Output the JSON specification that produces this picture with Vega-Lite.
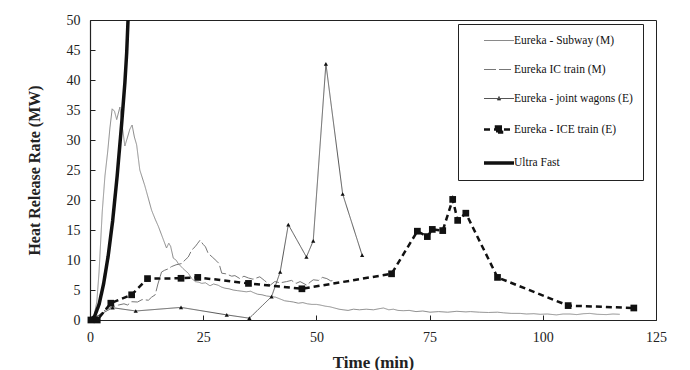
{
  "$schema": "https://vega.github.io/schema/vega-lite/v6.json",
  "width": 566,
  "height": 300,
  "autosize": {"type": "none"},
  "padding": {"left": 90, "top": 20, "right": 34, "bottom": 50},
  "background": "white",
  "config": {
    "view": {"stroke": "#222", "strokeWidth": 1},
    "font": "Liberation Serif",
    "axis": {
      "grid": false,
      "labelFlush": false,
      "domainColor": "#222",
      "domainWidth": 1.2,
      "tickColor": "#222",
      "tickSize": -5,
      "labelFont": "Liberation Serif",
      "labelFontSize": 14,
      "labelColor": "#222",
      "titleFont": "Liberation Serif",
      "titleFontWeight": "bold",
      "titleColor": "#222"
    },
    "legend": {
      "labelFont": "Liberation Serif",
      "labelFontSize": 11.5,
      "labelColor": "#111"
    }
  },
  "data": {
    "values": [
      {"s": "Eureka - Subway (M)", "t": 0.7, "q": 0},
      {"s": "Eureka - Subway (M)", "t": 1.5, "q": 3},
      {"s": "Eureka - Subway (M)", "t": 2.0, "q": 8},
      {"s": "Eureka - Subway (M)", "t": 2.7, "q": 18},
      {"s": "Eureka - Subway (M)", "t": 3.3, "q": 24},
      {"s": "Eureka - Subway (M)", "t": 3.9, "q": 28},
      {"s": "Eureka - Subway (M)", "t": 4.4, "q": 32},
      {"s": "Eureka - Subway (M)", "t": 4.9, "q": 35.2},
      {"s": "Eureka - Subway (M)", "t": 5.4, "q": 34.8},
      {"s": "Eureka - Subway (M)", "t": 5.9, "q": 33.4},
      {"s": "Eureka - Subway (M)", "t": 6.6, "q": 35.5},
      {"s": "Eureka - Subway (M)", "t": 7.0, "q": 33},
      {"s": "Eureka - Subway (M)", "t": 7.7, "q": 29},
      {"s": "Eureka - Subway (M)", "t": 8.3, "q": 30.5},
      {"s": "Eureka - Subway (M)", "t": 8.8, "q": 31.8},
      {"s": "Eureka - Subway (M)", "t": 9.3, "q": 32.5},
      {"s": "Eureka - Subway (M)", "t": 9.8, "q": 30.5},
      {"s": "Eureka - Subway (M)", "t": 10.3, "q": 29.2},
      {"s": "Eureka - Subway (M)", "t": 11.0, "q": 25},
      {"s": "Eureka - Subway (M)", "t": 12.1, "q": 22.4},
      {"s": "Eureka - Subway (M)", "t": 12.8, "q": 20.5},
      {"s": "Eureka - Subway (M)", "t": 13.6, "q": 18.3},
      {"s": "Eureka - Subway (M)", "t": 14.4, "q": 16.8},
      {"s": "Eureka - Subway (M)", "t": 15.1, "q": 15.6},
      {"s": "Eureka - Subway (M)", "t": 15.9, "q": 14},
      {"s": "Eureka - Subway (M)", "t": 16.9, "q": 12},
      {"s": "Eureka - Subway (M)", "t": 17.4, "q": 12.8},
      {"s": "Eureka - Subway (M)", "t": 17.8, "q": 12.3},
      {"s": "Eureka - Subway (M)", "t": 18.4, "q": 10.3},
      {"s": "Eureka - Subway (M)", "t": 19.0, "q": 10},
      {"s": "Eureka - Subway (M)", "t": 19.5, "q": 9.4},
      {"s": "Eureka - Subway (M)", "t": 20.5, "q": 8.6},
      {"s": "Eureka - Subway (M)", "t": 21.7, "q": 7.8},
      {"s": "Eureka - Subway (M)", "t": 22.4, "q": 7},
      {"s": "Eureka - Subway (M)", "t": 23.2, "q": 6.4},
      {"s": "Eureka - Subway (M)", "t": 24.0, "q": 6.3},
      {"s": "Eureka - Subway (M)", "t": 24.7, "q": 6.1},
      {"s": "Eureka - Subway (M)", "t": 25.5, "q": 6.2},
      {"s": "Eureka - Subway (M)", "t": 26.5, "q": 5.7},
      {"s": "Eureka - Subway (M)", "t": 27.3, "q": 6},
      {"s": "Eureka - Subway (M)", "t": 28.3, "q": 5.8},
      {"s": "Eureka - Subway (M)", "t": 29.0, "q": 5.5},
      {"s": "Eureka - Subway (M)", "t": 29.8, "q": 5.3},
      {"s": "Eureka - Subway (M)", "t": 30.7, "q": 5.2},
      {"s": "Eureka - Subway (M)", "t": 31.6, "q": 5.0},
      {"s": "Eureka - Subway (M)", "t": 32.5, "q": 4.9},
      {"s": "Eureka - Subway (M)", "t": 33.5, "q": 4.8},
      {"s": "Eureka - Subway (M)", "t": 34.5, "q": 4.7},
      {"s": "Eureka - Subway (M)", "t": 35.5, "q": 4.8},
      {"s": "Eureka - Subway (M)", "t": 36.0, "q": 4.6},
      {"s": "Eureka - Subway (M)", "t": 37.0, "q": 4.3},
      {"s": "Eureka - Subway (M)", "t": 38.0, "q": 4.2},
      {"s": "Eureka - Subway (M)", "t": 39.0, "q": 4.0},
      {"s": "Eureka - Subway (M)", "t": 40.1, "q": 3.9},
      {"s": "Eureka - Subway (M)", "t": 41.0, "q": 3.8},
      {"s": "Eureka - Subway (M)", "t": 42.0, "q": 3.5},
      {"s": "Eureka - Subway (M)", "t": 43.0, "q": 3.2},
      {"s": "Eureka - Subway (M)", "t": 44.0, "q": 3.1},
      {"s": "Eureka - Subway (M)", "t": 44.9, "q": 3.0},
      {"s": "Eureka - Subway (M)", "t": 46.0, "q": 2.8},
      {"s": "Eureka - Subway (M)", "t": 47.0, "q": 2.9},
      {"s": "Eureka - Subway (M)", "t": 48.0, "q": 2.7},
      {"s": "Eureka - Subway (M)", "t": 49.0, "q": 2.6},
      {"s": "Eureka - Subway (M)", "t": 50.0, "q": 2.6},
      {"s": "Eureka - Subway (M)", "t": 50.8, "q": 2.5},
      {"s": "Eureka - Subway (M)", "t": 52.0, "q": 2.3},
      {"s": "Eureka - Subway (M)", "t": 53.0, "q": 2.2},
      {"s": "Eureka - Subway (M)", "t": 54.0, "q": 2.0},
      {"s": "Eureka - Subway (M)", "t": 55.0, "q": 1.8},
      {"s": "Eureka - Subway (M)", "t": 55.9, "q": 1.7},
      {"s": "Eureka - Subway (M)", "t": 57.0, "q": 1.6},
      {"s": "Eureka - Subway (M)", "t": 58.2, "q": 1.8},
      {"s": "Eureka - Subway (M)", "t": 59.5, "q": 1.7},
      {"s": "Eureka - Subway (M)", "t": 61.0, "q": 1.8},
      {"s": "Eureka - Subway (M)", "t": 62.6, "q": 1.7},
      {"s": "Eureka - Subway (M)", "t": 64.0, "q": 1.9},
      {"s": "Eureka - Subway (M)", "t": 64.8, "q": 2.0},
      {"s": "Eureka - Subway (M)", "t": 66.0, "q": 1.7},
      {"s": "Eureka - Subway (M)", "t": 67.0, "q": 1.8},
      {"s": "Eureka - Subway (M)", "t": 68.0, "q": 1.6},
      {"s": "Eureka - Subway (M)", "t": 69.2, "q": 1.55},
      {"s": "Eureka - Subway (M)", "t": 70.5, "q": 1.6},
      {"s": "Eureka - Subway (M)", "t": 72.0, "q": 1.4},
      {"s": "Eureka - Subway (M)", "t": 73.5, "q": 1.5},
      {"s": "Eureka - Subway (M)", "t": 75.1, "q": 1.3},
      {"s": "Eureka - Subway (M)", "t": 77.0, "q": 1.4},
      {"s": "Eureka - Subway (M)", "t": 79.0, "q": 1.3},
      {"s": "Eureka - Subway (M)", "t": 81.0, "q": 1.45},
      {"s": "Eureka - Subway (M)", "t": 83.0, "q": 1.35},
      {"s": "Eureka - Subway (M)", "t": 84.0, "q": 1.4},
      {"s": "Eureka - Subway (M)", "t": 86.0, "q": 1.3},
      {"s": "Eureka - Subway (M)", "t": 88.0, "q": 1.25},
      {"s": "Eureka - Subway (M)", "t": 90.0, "q": 1.3},
      {"s": "Eureka - Subway (M)", "t": 91.3, "q": 1.2},
      {"s": "Eureka - Subway (M)", "t": 93.0, "q": 1.1},
      {"s": "Eureka - Subway (M)", "t": 95.0, "q": 1.1},
      {"s": "Eureka - Subway (M)", "t": 96.4, "q": 1.0},
      {"s": "Eureka - Subway (M)", "t": 98.0, "q": 1.05},
      {"s": "Eureka - Subway (M)", "t": 99.4, "q": 0.95},
      {"s": "Eureka - Subway (M)", "t": 101.0, "q": 1.0},
      {"s": "Eureka - Subway (M)", "t": 103.0, "q": 0.85},
      {"s": "Eureka - Subway (M)", "t": 104.5, "q": 1.0},
      {"s": "Eureka - Subway (M)", "t": 106.0, "q": 1.0},
      {"s": "Eureka - Subway (M)", "t": 107.5, "q": 0.9},
      {"s": "Eureka - Subway (M)", "t": 109.0, "q": 1.05},
      {"s": "Eureka - Subway (M)", "t": 110.4, "q": 1.1},
      {"s": "Eureka - Subway (M)", "t": 112.0, "q": 0.95},
      {"s": "Eureka - Subway (M)", "t": 114.0, "q": 0.9},
      {"s": "Eureka - Subway (M)", "t": 115.5, "q": 1.0},
      {"s": "Eureka - Subway (M)", "t": 117.0, "q": 0.95},

      {"s": "Eureka IC train (M)", "t": 0.5, "q": 0},
      {"s": "Eureka IC train (M)", "t": 2.0, "q": 0.8},
      {"s": "Eureka IC train (M)", "t": 3.0, "q": 1.5},
      {"s": "Eureka IC train (M)", "t": 4.0, "q": 1.9},
      {"s": "Eureka IC train (M)", "t": 5.0, "q": 2.2},
      {"s": "Eureka IC train (M)", "t": 6.3, "q": 2.5},
      {"s": "Eureka IC train (M)", "t": 7.5, "q": 2.7},
      {"s": "Eureka IC train (M)", "t": 8.3, "q": 2.5},
      {"s": "Eureka IC train (M)", "t": 9.2, "q": 3.05},
      {"s": "Eureka IC train (M)", "t": 10.5, "q": 3.0},
      {"s": "Eureka IC train (M)", "t": 11.5, "q": 3.4},
      {"s": "Eureka IC train (M)", "t": 12.9, "q": 3.3},
      {"s": "Eureka IC train (M)", "t": 13.6, "q": 3.8},
      {"s": "Eureka IC train (M)", "t": 14.4, "q": 4.2},
      {"s": "Eureka IC train (M)", "t": 15.0, "q": 6},
      {"s": "Eureka IC train (M)", "t": 15.8, "q": 8},
      {"s": "Eureka IC train (M)", "t": 16.5, "q": 8.3},
      {"s": "Eureka IC train (M)", "t": 17.2, "q": 8.5},
      {"s": "Eureka IC train (M)", "t": 18.0, "q": 8.9},
      {"s": "Eureka IC train (M)", "t": 19.0, "q": 9.2},
      {"s": "Eureka IC train (M)", "t": 20.2, "q": 9.4},
      {"s": "Eureka IC train (M)", "t": 21.0, "q": 10},
      {"s": "Eureka IC train (M)", "t": 21.7, "q": 10.5},
      {"s": "Eureka IC train (M)", "t": 22.5, "q": 11.7},
      {"s": "Eureka IC train (M)", "t": 23.2, "q": 12.2},
      {"s": "Eureka IC train (M)", "t": 23.8, "q": 12.8},
      {"s": "Eureka IC train (M)", "t": 24.3, "q": 13.3},
      {"s": "Eureka IC train (M)", "t": 25.0, "q": 12.6},
      {"s": "Eureka IC train (M)", "t": 25.5, "q": 12.2},
      {"s": "Eureka IC train (M)", "t": 26.1, "q": 11.1},
      {"s": "Eureka IC train (M)", "t": 27.0, "q": 10.5},
      {"s": "Eureka IC train (M)", "t": 28.0, "q": 9.8},
      {"s": "Eureka IC train (M)", "t": 28.5, "q": 9.4},
      {"s": "Eureka IC train (M)", "t": 29.1, "q": 7.8},
      {"s": "Eureka IC train (M)", "t": 30.0, "q": 7.7},
      {"s": "Eureka IC train (M)", "t": 31.3, "q": 7.3},
      {"s": "Eureka IC train (M)", "t": 32.0, "q": 7.4},
      {"s": "Eureka IC train (M)", "t": 33.1, "q": 6.9},
      {"s": "Eureka IC train (M)", "t": 34.0, "q": 7.3},
      {"s": "Eureka IC train (M)", "t": 35.0, "q": 7.0},
      {"s": "Eureka IC train (M)", "t": 36.0, "q": 6.8},
      {"s": "Eureka IC train (M)", "t": 37.5, "q": 7.2},
      {"s": "Eureka IC train (M)", "t": 38.5, "q": 6.6},
      {"s": "Eureka IC train (M)", "t": 39.8, "q": 5.8},
      {"s": "Eureka IC train (M)", "t": 40.8, "q": 6.4},
      {"s": "Eureka IC train (M)", "t": 42.0, "q": 6.2},
      {"s": "Eureka IC train (M)", "t": 43.4, "q": 6.4},
      {"s": "Eureka IC train (M)", "t": 44.5, "q": 6.6},
      {"s": "Eureka IC train (M)", "t": 45.5, "q": 6.1},
      {"s": "Eureka IC train (M)", "t": 46.4, "q": 6.4},
      {"s": "Eureka IC train (M)", "t": 47.9, "q": 5.8},
      {"s": "Eureka IC train (M)", "t": 48.6, "q": 6.3},
      {"s": "Eureka IC train (M)", "t": 49.3, "q": 6.7},
      {"s": "Eureka IC train (M)", "t": 50.5, "q": 6.6},
      {"s": "Eureka IC train (M)", "t": 51.3, "q": 7.1},
      {"s": "Eureka IC train (M)", "t": 52.3, "q": 6.9},
      {"s": "Eureka IC train (M)", "t": 53.2, "q": 6.5},
      {"s": "Eureka IC train (M)", "t": 54.1, "q": 6.7},

      {"s": "Eureka - joint wagons (E)", "t": 0, "q": 0},
      {"s": "Eureka - joint wagons (E)", "t": 5.0, "q": 2.05},
      {"s": "Eureka - joint wagons (E)", "t": 10.1, "q": 1.5},
      {"s": "Eureka - joint wagons (E)", "t": 20.1, "q": 2.1},
      {"s": "Eureka - joint wagons (E)", "t": 30.2, "q": 0.85},
      {"s": "Eureka - joint wagons (E)", "t": 35.2, "q": 0.3},
      {"s": "Eureka - joint wagons (E)", "t": 40.1, "q": 3.9},
      {"s": "Eureka - joint wagons (E)", "t": 42.0, "q": 8},
      {"s": "Eureka - joint wagons (E)", "t": 43.8, "q": 15.9},
      {"s": "Eureka - joint wagons (E)", "t": 47.8, "q": 10.5},
      {"s": "Eureka - joint wagons (E)", "t": 49.3, "q": 13.2},
      {"s": "Eureka - joint wagons (E)", "t": 52.1, "q": 42.7},
      {"s": "Eureka - joint wagons (E)", "t": 55.8, "q": 21},
      {"s": "Eureka - joint wagons (E)", "t": 60.1, "q": 10.8},

      {"s": "Eureka - ICE train (E)", "t": 0.2, "q": 0},
      {"s": "Eureka - ICE train (E)", "t": 1.6, "q": 0},
      {"s": "Eureka - ICE train (E)", "t": 4.6, "q": 2.8},
      {"s": "Eureka - ICE train (E)", "t": 9.2, "q": 4.2},
      {"s": "Eureka - ICE train (E)", "t": 12.7, "q": 6.9},
      {"s": "Eureka - ICE train (E)", "t": 20.1, "q": 6.95},
      {"s": "Eureka - ICE train (E)", "t": 23.8, "q": 7.1},
      {"s": "Eureka - ICE train (E)", "t": 35.0, "q": 6.1},
      {"s": "Eureka - ICE train (E)", "t": 46.8, "q": 5.2},
      {"s": "Eureka - ICE train (E)", "t": 66.6, "q": 7.7},
      {"s": "Eureka - ICE train (E)", "t": 72.3, "q": 14.8},
      {"s": "Eureka - ICE train (E)", "t": 74.5, "q": 13.9},
      {"s": "Eureka - ICE train (E)", "t": 75.6, "q": 15.1},
      {"s": "Eureka - ICE train (E)", "t": 77.9, "q": 14.9},
      {"s": "Eureka - ICE train (E)", "t": 80.1, "q": 20.1},
      {"s": "Eureka - ICE train (E)", "t": 81.2, "q": 16.6},
      {"s": "Eureka - ICE train (E)", "t": 83.0, "q": 17.8},
      {"s": "Eureka - ICE train (E)", "t": 90.0, "q": 7.1},
      {"s": "Eureka - ICE train (E)", "t": 105.6, "q": 2.4},
      {"s": "Eureka - ICE train (E)", "t": 120.1, "q": 2.0},

      {"s": "Ultra Fast", "t": 0, "q": 0},
      {"s": "Ultra Fast", "t": 1, "q": 0.6},
      {"s": "Ultra Fast", "t": 2, "q": 2.6},
      {"s": "Ultra Fast", "t": 3, "q": 6},
      {"s": "Ultra Fast", "t": 4, "q": 10.6},
      {"s": "Ultra Fast", "t": 5, "q": 16.5},
      {"s": "Ultra Fast", "t": 6, "q": 24},
      {"s": "Ultra Fast", "t": 7, "q": 32.8},
      {"s": "Ultra Fast", "t": 7.7, "q": 39.5},
      {"s": "Ultra Fast", "t": 8.1, "q": 44.5},
      {"s": "Ultra Fast", "t": 8.4, "q": 50}
    ]
  },
  "encoding": {
    "x": {
      "field": "t",
      "type": "quantitative",
      "scale": {"domain": [0, 125], "nice": false},
      "axis": {"values": [0, 25, 50, 75, 100, 125], "title": "Time (min)", "labelPadding": 15, "titlePadding": 10, "titleFontSize": 17}
    },
    "y": {
      "field": "q",
      "type": "quantitative",
      "scale": {"domain": [0, 50], "nice": false},
      "axis": {"values": [0, 5, 10, 15, 20, 25, 30, 35, 40, 45, 50], "title": "Heat Release Rate (MW)", "labelPadding": 15, "titlePadding": 24, "titleFontSize": 16}
    }
  },
  "layer": [
    {
      "mark": {"type": "line", "clip": true},
      "encoding": {
        "stroke": {
          "field": "s", "type": "nominal",
          "scale": {
            "domain": ["Eureka - Subway (M)", "Eureka IC train (M)", "Eureka - joint wagons (E)", "Eureka - ICE train (E)", "Ultra Fast"],
            "range": ["#8a8a8a", "#777777", "#555555", "#111111", "#111111"]
          },
          "legend": {
            "orient": "none", "legendX": 368, "legendY": 4,
            "title": null, "strokeColor": "#222", "padding": 10,
            "symbolSize": 144, "symbolOffset": 23, "rowPadding": 17, "labelOffset": 7,
            "encode": {
              "symbols": {
                "update": {
                  "strokeWidth": {"signal": "datum.value == 'Ultra Fast' ? 3.5 : datum.value == 'Eureka - ICE train (E)' ? 2.5 : 1"}
                }
              }
            }
          }
        },
        "strokeDash": {
          "field": "s", "type": "nominal",
          "scale": {
            "domain": ["Eureka - Subway (M)", "Eureka IC train (M)", "Eureka - joint wagons (E)", "Eureka - ICE train (E)", "Ultra Fast"],
            "range": [[1, 0], [12, 3], [1, 0], [6, 4], [1, 0]]
          }
        },
        "strokeWidth": {
          "field": "s", "type": "nominal",
          "legend": null,
          "scale": {
            "type": "ordinal",
            "domain": ["Eureka - Subway (M)", "Eureka IC train (M)", "Eureka - joint wagons (E)", "Eureka - ICE train (E)", "Ultra Fast"],
            "range": [1, 1, 1, 2.5, 3.5]
          }
        }
      }
    },
    {
      "transform": [{"filter": "datum.s == 'Eureka - joint wagons (E)'"}],
      "mark": {"type": "point", "shape": "triangle-up", "filled": true, "size": 18, "color": "#111", "opacity": 1}
    },
    {
      "transform": [{"filter": "datum.s == 'Eureka - ICE train (E)'"}],
      "mark": {"type": "square", "size": 45, "color": "#111", "opacity": 1}
    },
    {
      "transform": [{"filter": "datum.t < 0"}],
      "mark": {"type": "point", "filled": true, "opacity": 1},
      "encoding": {
        "shape": {
          "field": "s", "type": "nominal",
          "scale": {
            "domain": ["Eureka - Subway (M)", "Eureka IC train (M)", "Eureka - joint wagons (E)", "Eureka - ICE train (E)", "Ultra Fast"],
            "range": ["M-2.5,0H2.5", "M-2.5,0H2.5", "M-2.5,0H2.5M0,-0.33L0.3,0.25L-0.3,0.25Z", "M-2.5,0H2.5M-0.5,-0.5H0.5V0.5H-0.5Z", "M-2.5,0H2.5"]
          }
        },
        "fill": {
          "field": "s", "type": "nominal",
          "scale": {
            "domain": ["Eureka - Subway (M)", "Eureka IC train (M)", "Eureka - joint wagons (E)", "Eureka - ICE train (E)", "Ultra Fast"],
            "range": ["#8a8a8a", "#777777", "#111111", "#111111", "#111111"]
          }
        },
        "stroke": {"field": "s", "type": "nominal"},
        "strokeDash": {"field": "s", "type": "nominal"}
      }
    }
  ]
}
